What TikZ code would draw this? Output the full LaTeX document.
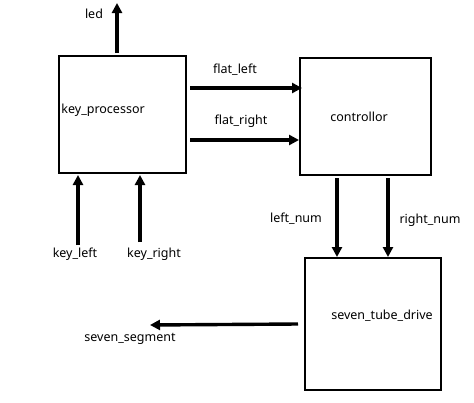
\documentclass[tikz,border=0pt]{standalone}
\usepackage{fontspec}
\setmainfont{Noto Sans}
\usetikzlibrary{arrows.meta}
\usetikzlibrary{positioning}
\usetikzlibrary{calc}

\begin{document}
\begin{tikzpicture}[x=1pt,y=-1pt,thick,font=\fontsize{12.5}{14}\selectfont]
\tikzstyle{block}=[draw,rectangle,line width=2pt,fill=white,inner sep=0pt]
\tikzstyle{signal}=[line width=3.4pt,-{Triangle[length=10pt,width=10pt]}]
\tikzstyle{lbl}=[inner sep=1pt]
\useasboundingbox (0,0) rectangle (474,402);
% blocks
\node [block,minimum width=127pt,minimum height=117pt] (kp) at (122.5,114.5) {};
\node [block,minimum width=131pt,minimum height=117pt] (ctrl) at (365.5,116.5) {};
\node [block,minimum width=136pt,minimum height=132pt] (drive) at (373,324) {};
\node [lbl,anchor=west] (kpname) at (60,110) {key\_processor};
\node [lbl] (ctrlname) at (359,117) {controllor};
\node [lbl] (drivename) at (382,316) {seven\_tube\_drive};
% free ends
\coordinate (ledfrom) at (117,53);
\coordinate (ledto) at (117,3);
\coordinate (flfrom) at (190,88);
\coordinate (flto) at (302,88);
\coordinate (frfrom) at (190,140);
\coordinate (frto) at (299,140);
\coordinate (klfrom) at (78,245);
\coordinate (klto) at (78,175);
\coordinate (krfrom) at (140,242);
\coordinate (krto) at (140,175);
\coordinate (lnfrom) at (337,178);
\coordinate (lnto) at (337,257);
\coordinate (rnfrom) at (388,178);
\coordinate (rnto) at (388,257);
\coordinate (ssfrom) at (298,324);
\coordinate (ssto) at (150,325);
% signals
\draw [signal] (ledfrom) -- (ledto);
\draw [signal] (flfrom) -- (flto);
\draw [signal] (frfrom) -- (frto);
\draw [signal] (klfrom) -- (klto);
\draw [signal] (krfrom) -- (krto);
\draw [signal] (lnfrom) -- (lnto);
\draw [signal] (rnfrom) -- (rnto);
\draw [signal] (ssfrom) -- (ssto);
% labels
\node [lbl] (led) at (94,14) {led};
\node [lbl] (fl) at (235,70) {flat\_left};
\node [lbl] (fr) at (241,121) {flat\_right};
\node [lbl] (kl) at (75,254) {key\_left};
\node [lbl] (kr) at (154,254) {key\_right};
\node [lbl] (ln) at (296,219) {left\_num};
\node [lbl] (rn) at (430,220) {right\_num};
\node [lbl] (ss) at (130,339) {seven\_segment};
\end{tikzpicture}
\end{document}
